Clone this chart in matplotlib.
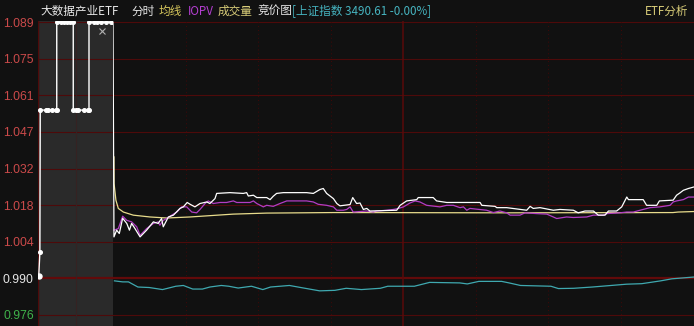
import matplotlib
matplotlib.use("Agg")
import numpy as np
from matplotlib import pyplot as plt


# Dados ----------------------------->>>>>
prev_close = 0.990
index_last = 3490.61

tick_steps = [-1, 0, 1, 2, 3, 4, 5, 6, 7]   # passos de 10%/7 a partir do fechamento anterior

# leilão 9:15-9:25 (minutos a partir de 9:15)
auction_min = [0.1, 0.25, 0.3, 1.0, 1.35, 1.9, 2.4, 2.5, 2.5, 3.1, 3.5, 3.9, 4.3, 4.7,
               4.7, 5.0, 5.3, 6.1, 6.6, 6.8, 6.8, 7.5, 7.9, 8.4, 9.0, 9.7, 10.0]
auction_price = [0.991, 1.000, 1.055, 1.055, 1.055, 1.055, 1.055, 1.055, 1.089, 1.089, 1.089, 1.089,
                 1.089, 1.089, 1.055, 1.055, 1.055, 1.055, 1.055, 1.055, 1.089, 1.089, 1.089,
                 1.089, 1.089, 1.089, 1.089]
auction_cross_min = [8.57]
auction_cross_price = [1.0856]

# preço (minutos a partir de 9:30)
price_min = [0, 0.4, 1.5, 2.6, 4.0, 5.7, 6.8, 7.7, 9.1, 11.2, 13.9, 16.7, 18.7, 20.1, 20.8, 22.9,
             25.0, 27.7, 29.1, 30.7, 31.9, 33.9, 36.0, 38.8, 40.1, 42.2, 42.9, 48.4, 53.9, 55.3,
             56.0, 58.1, 59.5, 63.6, 65.0, 66.3, 67.7, 70.5, 80.1, 82.9, 85.6, 87.0, 88.4, 91.2,
             92.6, 93.9, 98.1, 99.2, 100.8, 102.2, 103.6, 105.0, 106.3, 117.4, 118.8, 121.5,
             125.7, 126.3, 132.5, 133.9, 138.1, 151.9, 152.6, 158.1, 158.8, 162.9, 171.2, 172.6,
             173.9, 176.7, 182.2, 185.0, 190.5, 192.5, 195.3, 198.8, 200.8, 203.6, 205.0, 208.4,
             210.5, 212.6, 213.3, 219.4, 220.8, 225.0, 226.1, 231.8, 233.2, 234.6, 236.0, 238.1,
             240.4]
price = [1.089, 1.0060, 1.0086, 1.0073, 1.0132, 1.0112, 1.0086, 1.0112, 1.0092, 1.0060, 1.0086,
         1.0118, 1.0112, 1.0131, 1.0099, 1.0137, 1.0144, 1.0170, 1.0176, 1.0193, 1.0186, 1.0176,
         1.0189, 1.0195, 1.0189, 1.0208, 1.0228, 1.0231, 1.0228, 1.0231, 1.0218, 1.0221, 1.0212,
         1.0212, 1.0204, 1.0217, 1.0228, 1.0231, 1.0231, 1.0228, 1.0243, 1.0247, 1.0228, 1.0208,
         1.0189, 1.0180, 1.0185, 1.0212, 1.0189, 1.0191, 1.0166, 1.0170, 1.0160, 1.0163, 1.0182,
         1.0199, 1.0204, 1.0212, 1.0212, 1.0199, 1.0193, 1.0193, 1.0182, 1.0178, 1.0173, 1.0173,
         1.0163, 1.0178, 1.0170, 1.0173, 1.0163, 1.0166, 1.0163, 1.0153, 1.0160, 1.0160, 1.0144,
         1.0144, 1.0160, 1.0160, 1.0176, 1.0214, 1.0204, 1.0204, 1.0182, 1.0182, 1.0199, 1.0202,
         1.0221, 1.0230, 1.0240, 1.0247, 1.0253]

iopv_min = [0.4, 2.2, 4.0, 5.7, 7.7, 9.8, 11.2, 13.9, 16.7, 18.7, 19.4, 20.8, 22.2, 24.3, 26.4,
            28.4, 30.5, 32.6, 34.6, 36.0, 38.1, 39.4, 41.5, 44.3, 47.0, 49.8, 51.2, 56.7, 58.1,
            59.5, 62.2, 63.6, 66.3, 69.1, 71.9, 80.1, 82.9, 84.9, 88.4, 91.2, 92.6, 95.3, 96.7,
            98.1, 99.4, 105.0, 107.7, 109.1, 113.3, 116.0, 118.1, 120.2, 122.9, 125.0, 127.0,
            129.8, 135.3, 138.1, 140.8, 143.6, 145.0, 146.4, 147.7, 154.6, 157.4, 160.1, 162.9,
            164.3, 168.4, 170.5, 175.3, 179.5, 182.2, 183.6, 187.7, 190.5, 196.0, 198.8, 202.9,
            204.3, 209.8, 212.6, 215.3, 218.1, 222.2, 226.3, 230.5, 231.8, 233.2, 236.0, 238.1,
            240.4]
iopv = [1.0086, 1.0092, 1.0140, 1.0124, 1.0118, 1.0099, 1.0066, 1.0092, 1.0112, 1.0118, 1.0105,
        1.0124, 1.0131, 1.0144, 1.0156, 1.0176, 1.0176, 1.0156, 1.0153, 1.0166, 1.0189, 1.0199,
        1.0189, 1.0193, 1.0193, 1.0199, 1.0193, 1.0193, 1.0199, 1.0189, 1.0176, 1.0182, 1.0178,
        1.0189, 1.0199, 1.0199, 1.0195, 1.0186, 1.0182, 1.0176, 1.0163, 1.0163, 1.0166, 1.0176,
        1.0156, 1.0160, 1.0156, 1.0160, 1.0163, 1.0166, 1.0170, 1.0176, 1.0191, 1.0199, 1.0195,
        1.0182, 1.0176, 1.0182, 1.0182, 1.0173, 1.0176, 1.0163, 1.0170, 1.0163, 1.0154, 1.0160,
        1.0153, 1.0144, 1.0144, 1.0153, 1.0150, 1.0148, 1.0137, 1.0131, 1.0137, 1.0135, 1.0137,
        1.0144, 1.0144, 1.0150, 1.0153, 1.0156, 1.0156, 1.0163, 1.0173, 1.0176, 1.0182, 1.0195,
        1.0199, 1.0204, 1.0214, 1.0214]

avg_min = [0.4, 0.45, 1.2, 2.2, 4.3, 8.4, 15.3, 22.2, 31.9, 49.7, 63.6, 91.0, 98.1, 162.6, 231.7,
           233.8, 240.4]
avg_price = [1.0369, 1.0266, 1.0202, 1.0170, 1.0156, 1.0144, 1.0137, 1.0133, 1.0137, 1.0148, 1.0152,
             1.0154, 1.0154, 1.0153, 1.0154, 1.0156, 1.0158]

# índice (variação % do Shanghai Composite)
index_min = [0.6, 4.0, 6.4, 10.3, 15.0, 20.5, 26.0, 29.1, 33.0, 37.0, 40.1, 44.8, 47.9, 51.8, 57.3,
             62.0, 65.2, 73.0, 77.7, 85.5, 91.8, 96.5, 102.8, 110.6, 113.7, 124.7, 131.0, 143.5,
             146.6, 151.4, 160.8, 163.9, 168.6, 181.2, 184.3, 190.6, 198.4, 212.5, 218.8, 226.6,
             231.3, 240.4]
index_pct = [-0.10, -0.14, -0.14, -0.34, -0.36, -0.44, -0.31, -0.28, -0.42, -0.42, -0.34, -0.28,
             -0.31, -0.38, -0.31, -0.44, -0.34, -0.28, -0.36, -0.49, -0.47, -0.39, -0.44, -0.39,
             -0.31, -0.31, -0.16, -0.18, -0.22, -0.12, -0.12, -0.18, -0.28, -0.31, -0.40, -0.39,
             -0.34, -0.23, -0.21, -0.10, -0.02, 0.05]

# Cores ----------------------------->>>>>
BG = '#111111'
AUCTION_BG = '#2a2a2a'
GRID = '#4e0a0a'
CJK = ['Noto Sans CJK SC', 'DejaVu Sans']

W, H = 694, 326
top_px = 20.5

fig = plt.figure(figsize=(W / 100, H / 100), dpi=100, facecolor=BG)

ax_auc = fig.add_axes([38 / W, 0, 75 / W, (H - top_px) / H])
ax = fig.add_axes([113 / W, 0, (W - 113) / W, (H - top_px) / H], sharey=ax_auc)

ax_auc.set_facecolor(AUCTION_BG)
ax.set_facecolor(BG)

tick_vals = [prev_close * (1 + k / 70) for k in tick_steps]
tick_labels = [f"{v:.3f}" for v in tick_vals]

px_per_val = (278.3 - 22.1) / (tick_vals[-1] - prev_close)
ymax = tick_vals[-1] + (22.1 - top_px) / px_per_val
ymin = prev_close - (H - 278.3) / px_per_val
ax_auc.set_ylim(ymin, ymax)
ax_auc.set_xlim(0, 10)
ax.set_xlim(0, 240 * (W - 113) / 580)

# grades
for a in (ax_auc, ax):
    for v in tick_vals:
        if abs(v - prev_close) < 1e-9:
            a.axhline(v, color='#620a0a', lw=1.6, zorder=1)
        else:
            a.axhline(v, color=GRID, lw=0.8, zorder=1)
    for s in a.spines.values():
        s.set_visible(False)
    a.tick_params(length=0)
    a.set_xticks([])

ax_auc.axvline(5, color='#352222', lw=0.8, zorder=1)
ax_auc.axvline(0, color=GRID, lw=1.0, zorder=1)
for m in [30, 60, 90, 150, 180, 210]:
    ax.axvline(m, color='#420808', lw=0.7, ls=(0, (1, 3)), zorder=1)
ax.axvline(120, color='#5a0a0a', lw=1.1, zorder=1)

# rótulos do eixo y
ax_auc.set_yticks(tick_vals)
ax_auc.set_yticklabels(tick_labels, family='Liberation Sans', fontsize=8.8)
ax_auc.tick_params(axis='y', pad=3)
for lbl, v in zip(ax_auc.get_yticklabels(), tick_vals):
    if abs(v - prev_close) < 1e-9:
        lbl.set_color('#e6e6e6')
    elif v > prev_close:
        lbl.set_color('#cc4a4a')
    else:
        lbl.set_color('#3fb34a')
ax.tick_params(axis='y', labelleft=False)

# leilão
ax_auc.plot(auction_min, auction_price, color='white', lw=1.0, zorder=3)
ax_auc.plot(auction_min[1:], auction_price[1:], ls='none', marker='o', ms=2.6,
            color='white', zorder=4)
ax_auc.plot(auction_min[:1], auction_price[:1], ls='none', marker='o', ms=3.6,
            color='white', zorder=4)
ax_auc.plot(auction_cross_min, auction_cross_price, ls='none', marker='x', ms=5,
            mew=0.8, color='#b0b0b0', zorder=4)

# linhas do pregão
index_line = [prev_close * (1 + p / 100) for p in index_pct]
ax.plot(index_min, index_line, color='#3fa9b0', lw=0.9, zorder=3)
ax.plot(avg_min, avg_price, color='#e8dc8c', lw=0.9, zorder=3)
ax.plot(iopv_min, iopv, color='#b23dc4', lw=0.9, zorder=4)
ax.plot(price_min, price, color='white', lw=0.9, zorder=5)

# cabeçalho
ty = 1 - 11.5 / H
header = [
    (40, "大数据产业ETF", '#e8e8e8'),
    (131, "分时", '#e8e8e8'),
    (159, "均线", '#d6c65c'),
    (188, "IOPV", '#b43ed0'),
    (218, "成交量", '#d8cc78'),
    (258, "竞价图", '#e8e8e8'),
    (292, f"[上证指数 {index_last:.2f} -0.00%]", '#46b4c0'),
]
for x, txt, c in header:
    fig.text(x / W, ty, txt, color=c, fontsize=8.4, family=CJK, va='center', ha='left')
fig.text(688 / W, ty, "ETF分析", color='#d8cc78', fontsize=8.4, family=CJK, va='center', ha='right')

fig.savefig('out.png', dpi=100, facecolor=BG)
